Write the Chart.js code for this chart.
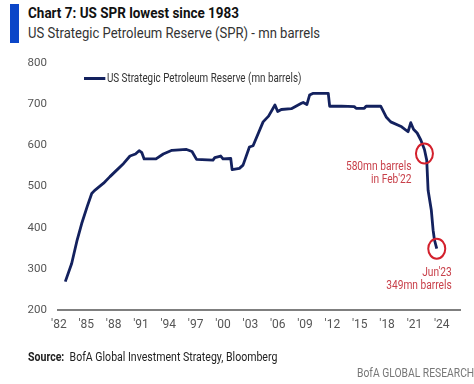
<!DOCTYPE html>
<html>
<head>
<meta charset="utf-8">
<script src="https://cdn.jsdelivr.net/npm/chart.js@4.4.0/dist/chart.umd.min.js"></script>
<style>
  body { margin: 0; background: #fff; font-family: Roboto, sans-serif; }
  #wrap { position: relative; width: 474px; height: 384px; overflow: hidden; }
  #chart { position: absolute; left: 0; top: 0; }
  .bar { position: absolute; left: 10px; top: 4px; width: 9px; height: 39px; background: #0b46c8; }
  .t { position: absolute; white-space: nowrap; transform-origin: 0 50%; line-height: 14px; }
  .legend-line { display: inline-block; width: 26px; height: 3px; background: #13215e; vertical-align: middle; margin-right: 2px; }
</style>
</head>
<body>
<div id="wrap">
  <div class="bar"></div>
  <div class="t" style="left:28px;top:7px;font-size:14.5px;font-weight:bold;color:#111;transform:scaleX(0.93)">Chart 7: US SPR lowest since 1983</div>
  <div class="t" style="left:28px;top:27px;font-size:14.5px;color:#333;transform:scaleX(0.9)">US Strategic Petroleum Reserve (SPR) - mn barrels</div>
  <canvas id="chart" width="474" height="384"></canvas>
  <div class="t" style="left:84px;top:71px;font-size:12px;color:#333;transform:scaleX(0.82)"><span class="legend-line"></span>US Strategic Petroleum Reserve (mn barrels)</div>
  <div class="t" style="left:28px;top:350px;font-size:12px;color:#222;transform:scaleX(0.88)"><b>Source:</b>&nbsp; BofA Global Investment Strategy, Bloomberg</div>
  <div class="t" style="left:357px;top:366px;font-size:12px;color:#777;transform:scaleX(0.86)">BofA GLOBAL RESEARCH</div>
</div>
<script>
// SPR level, mn barrels
const years = [1982.7, 1983.4, 1984.0, 1984.5, 1985.1, 1985.6, 1985.9, 1986.9, 1987.6, 1988.4,
  1989.1, 1989.8, 1990.4, 1990.8, 1991.1, 1991.35, 1992.65, 1993.45, 1994.4, 1996.0,
  1996.6, 1997.1, 1998.9, 1999.1, 1999.75, 2000.0, 2000.85, 2001.0, 2001.8, 2002.2,
  2002.9, 2003.3, 2004.4, 2005.0, 2005.7, 2006.0, 2006.4, 2007.5, 2008.6, 2008.8,
  2009.2, 2009.5, 2009.85, 2011.55, 2011.7, 2013.0, 2014.4, 2014.6, 2015.5, 2015.7,
  2017.3, 2017.9, 2018.4, 2019.6, 2020.3, 2020.6, 2020.9, 2021.3, 2021.7, 2022.1,
  2022.35, 2022.5, 2022.85, 2023.05, 2023.2, 2023.45];
const reserve = [269, 313, 370, 410, 451, 483, 490, 508, 524, 541,
  556, 574, 579, 587, 582, 567, 567, 579, 588, 590,
  585, 566, 564, 570, 574, 567, 568, 541, 544, 552,
  596, 599, 657, 671, 698, 682, 687, 689, 702, 704,
  699, 722, 726, 726, 695, 695, 694, 690, 690, 695,
  695, 669, 657, 645, 633, 655, 639, 630, 613, 590,
  564, 491, 443, 394, 370, 349];

const xTickYears = [1982, 1985, 1988, 1991, 1994, 1997, 2000, 2003, 2006, 2009, 2012, 2015, 2018, 2021, 2024];
const yTickValues = [200, 300, 400, 500, 600, 700, 800];

// callouts: year, value, text lines
const calloutYears = [2022.1, 2023.45];
const calloutValues = [580, 349];
const calloutText = [['580mn barrels', "in Feb'22"], ["Jun'23", '349mn barrels']];

const calloutPlugin = {
    id: 'callouts',
    afterDatasetsDraw(chart) {
        const ctx = chart.ctx;
        const xs = chart.scales.x, ys = chart.scales.y;
        // text offsets relative to the circle
        const offsets = [{ dx: -13, dy: 13 }, { dx: 15, dy: 24 }];
        ctx.save();
        calloutYears.forEach((yr, i) => {
            const cx = xs.getPixelForValue(yr);
            const cy = ys.getPixelForValue(calloutValues[i]);
            ctx.beginPath();
            ctx.ellipse(cx, cy, 8.5, 10, 0, 0, Math.PI * 2);
            ctx.strokeStyle = '#d3202c';
            ctx.lineWidth = 2;
            ctx.stroke();

            ctx.fillStyle = '#c8404a';
            ctx.font = '12px Roboto, sans-serif';
            ctx.textAlign = 'right';
            ctx.textBaseline = 'middle';
            calloutText[i].forEach((line, j) => {
                ctx.save();
                ctx.translate(cx + offsets[i].dx, cy + offsets[i].dy + j * 13);
                ctx.scale(0.85, 1);
                ctx.fillText(line, 0, 0);
                ctx.restore();
            });
        });
        ctx.restore();
    }
};

new Chart(document.getElementById('chart'), {
    type: 'line',
    data: {
        datasets: [{
            label: 'US Strategic Petroleum Reserve (mn barrels)',
            data: years.map((x, i) => ({ x: x, y: reserve[i] })),
            borderColor: '#13215e',
            borderWidth: 2.8,
            borderJoinStyle: 'round',
            pointRadius: 0,
            tension: 0,
            fill: false
        }]
    },
    options: {
        responsive: false,
        animation: false,
        layout: { padding: { top: 63, right: 14, left: 0, bottom: 0 } },
        plugins: { legend: { display: false }, tooltip: { enabled: false } },
        scales: {
            x: {
                type: 'linear',
                min: 1981.9,
                max: 2026,
                afterBuildTicks: s => { s.ticks = xTickYears.map(v => ({ value: v })); },
                afterFit: s => { s.height = 74; },
                grid: { display: false, drawTicks: false },
                border: { display: true, color: '#7f7f7f', width: 2 },
                ticks: {
                    autoSkip: false,
                    maxRotation: 0,
                    padding: 8,
                    color: '#555',
                    font: { family: 'Roboto', size: 12 },
                    callback: v => "'" + String(v).slice(2)
                }
            },
            y: {
                min: 200,
                max: 800,
                afterBuildTicks: s => { s.ticks = yTickValues.map(v => ({ value: v })); },
                afterFit: s => { s.width = 58; },
                grid: { display: false, drawTicks: false },
                border: { display: false },
                ticks: {
                    padding: 11,
                    color: '#555',
                    font: { family: 'Roboto', size: 11.5 }
                }
            }
        }
    },
    plugins: [calloutPlugin]
});
</script>
</body>
</html>
